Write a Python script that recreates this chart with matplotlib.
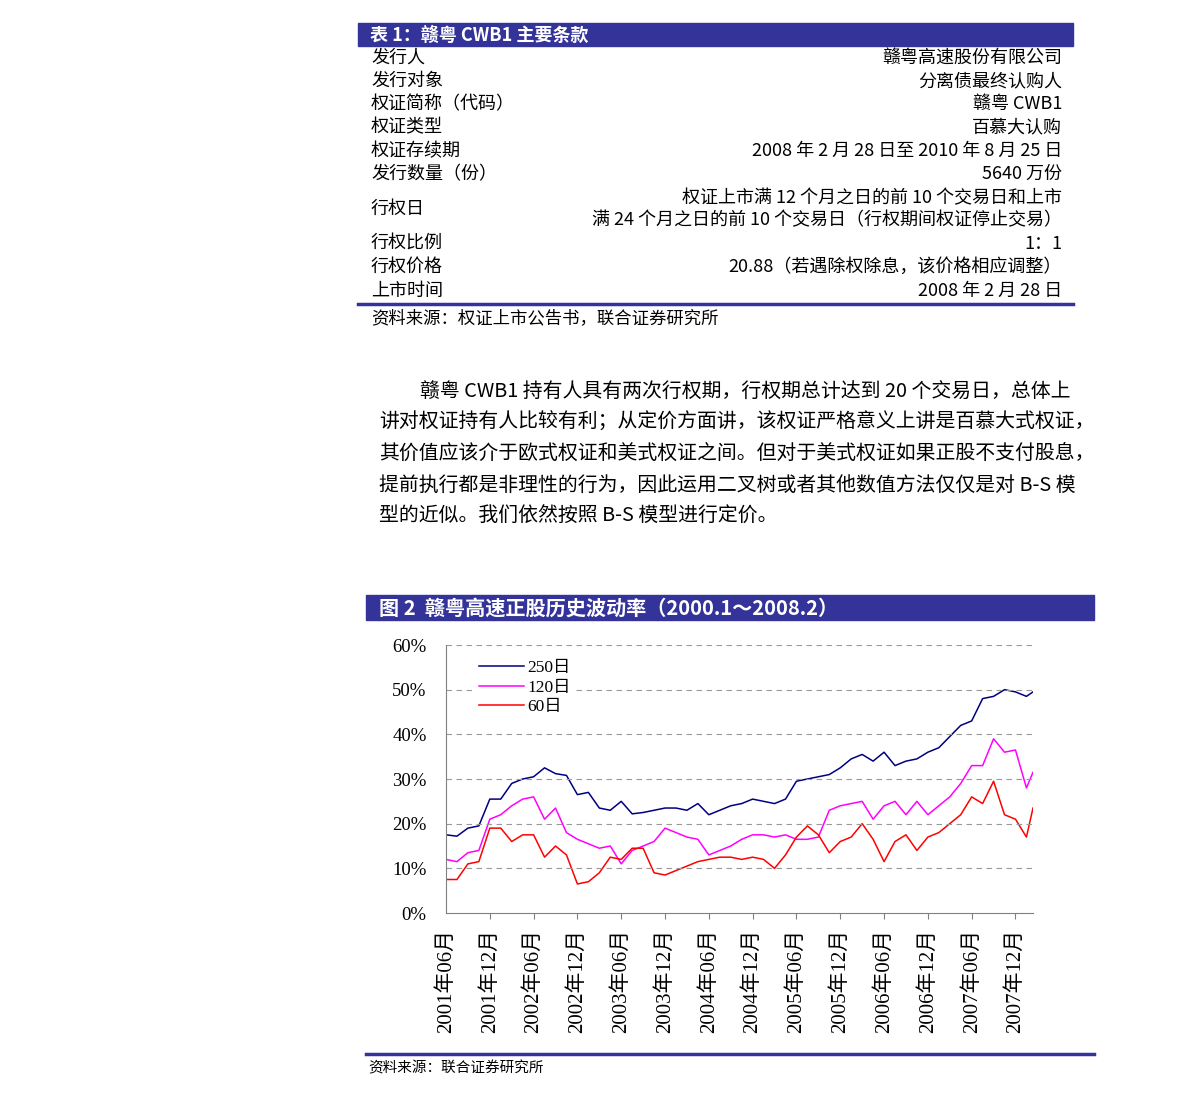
import numpy as np
import matplotlib
matplotlib.use("Agg")
import matplotlib.pyplot as plt
from matplotlib.patches import Rectangle

plt.rcParams['font.family'] = ['Noto Sans CJK SC', 'DejaVu Sans']

W, H = 1191, 1096
BLUE = '#333399'

table_labels = ["发行人", "发行对象", "权证简称（代码）", "权证类型", "权证存续期", "发行数量（份）",
                "行权日", "行权比例", "行权价格", "上市时间"]
table_values = ["赣粤高速股份有限公司", "分离债最终认购人", "赣粤 CWB1", "百慕大认购",
                "2008 年 2 月 28 日至 2010 年 8 月 25 日", "5640 万份",
                "权证上市满 12 个月之日的前 10 个交易日和上市\n满 24 个月之日的前 10 个交易日（行权期间权证停止交易）",
                "1：1", "20.88（若遇除权除息，该价格相应调整）", "2008 年 2 月 28 日"]
row_y = [58, 81, 104, 127, 151, 174, 209, 244, 267, 291]

body_lines = ["赣粤 CWB1 持有人具有两次行权期，行权期总计达到 20 个交易日，总体上",
              "讲对权证持有人比较有利；从定价方面讲，该权证严格意义上讲是百慕大式权证，",
              "其价值应该介于欧式权证和美式权证之间。但对于美式权证如果正股不支付股息，",
              "提前执行都是非理性的行为，因此运用二叉树或者其他数值方法仅仅是对 B-S 模",
              "型的近似。我们依然按照 B-S 模型进行定价。"]
body_y = [392, 422, 453, 485, 516]

tick_labels = ["2001年06月", "2001年12月", "2002年06月", "2002年12月", "2003年06月", "2003年12月",
               "2004年06月", "2004年12月", "2005年06月", "2005年12月", "2006年06月", "2006年12月",
               "2007年06月", "2007年12月"]
vol250 = [17.5, 17.2, 19, 19.5, 25.5, 25.5, 29, 30, 30.5, 32.5, 31.2, 30.8, 26.5, 27, 23.5, 23, 25,
          22.2, 22.5, 23, 23.5, 23.5, 23, 24.5, 22, 23, 24, 24.5, 25.5, 25, 24.5, 25.5, 29.5, 30, 30.5,
          31, 32.5, 34.5, 35.5, 34, 36, 33, 34, 34.5, 36, 37, 39.5, 42, 43, 48, 48.5, 50, 49.5, 48.5, 49.5]
vol120 = [12, 11.5, 13.5, 14, 21, 22, 24, 25.5, 26, 21, 23.5, 18, 16.5, 15.5, 14.5, 15, 11, 14, 15,
          16, 19, 18, 17, 16.5, 13, 14, 15, 16.5, 17.5, 17.5, 17, 17.5, 16.5, 16.5, 17, 23, 24, 24.5,
          25, 21, 24, 25, 22, 25, 22, 24, 26, 29, 33, 33, 39, 36, 36.5, 28, 31.5]
vol60 = [7.5, 7.5, 11, 11.5, 19, 19, 16, 17.5, 17.5, 12.5, 15, 13, 6.5, 7, 9, 12.5, 12, 14.5, 14.5,
         9, 8.5, 9.5, 10.5, 11.5, 12, 12.5, 12.5, 12, 12.5, 12, 10, 13, 17, 19.5, 17.5, 13.5, 16, 17,
         20, 16.5, 11.5, 16, 17.5, 14, 17, 18, 20, 22, 26, 24.5, 29.5, 22, 21, 17, 23.5]
xs = list(np.arange(54) * 0.25) + [13.4]

fig = plt.figure(figsize=(W / 100, H / 100), dpi=100)
bg = fig.add_axes([0, 0, 1, 1])
bg.set_xlim(0, W); bg.set_ylim(H, 0); bg.axis('off')

# table
bg.add_patch(Rectangle((358, 23), 715, 23, color=BLUE))
bg.text(370, 35, "表 1：赣粤 CWB1 主要条款", color='white', fontsize=13, fontweight='bold', va='center')
for lab, val, y in zip(table_labels, table_values, row_y):
    bg.text(371, y, lab, fontsize=13, va='center')
    bg.text(1062, y, val, fontsize=13, va='center', ha='right', multialignment='right', linespacing=1.3)
bg.plot([358, 1073], [304, 304], color=BLUE, lw=2.5)
bg.text(371, 318, "资料来源：权证上市公告书，联合证券研究所", fontsize=12.5, va='center')

for i, (t, y) in enumerate(zip(body_lines, body_y)):
    bg.text(420 if i == 0 else 379, y, t, fontsize=14.3, va='center')

# figure header
bg.add_patch(Rectangle((366, 595), 728, 25, color=BLUE))
bg.text(379, 608, "图 2  赣粤高速正股历史波动率（2000.1～2008.2）", color='white', fontsize=14.5,
        fontweight='bold', va='center')
bg.plot([366, 1094], [1054, 1054], color=BLUE, lw=2.5)
bg.text(368, 1068, "资料来源：联合证券研究所", fontsize=10.5, va='center')

# chart
ax = fig.add_axes([446 / W, 1 - 913 / H, 587 / W, 268 / H])
ax.plot(xs, vol250, color='#000080', lw=1.1, label='250日')
ax.plot(xs, vol120, color='#FF00FF', lw=1.1, label='120日')
ax.plot(xs, vol60, color='#FF0000', lw=1.1, label='60日')
ax.set_xlim(0, 13.4)
ax.set_ylim(0, 60)
ax.set_yticks(range(0, 61, 10))
ax.set_yticklabels([f"{v}%" for v in range(0, 61, 10)], family=['Liberation Serif', 'Noto Sans CJK SC'], fontsize=13.5)
ax.set_xticks(range(1, 14))
ax.set_xticklabels([])
for k, lab in enumerate(tick_labels):
    ax.text(k, -3.5, lab, rotation=90, ha='center', va='top', fontsize=15,
            family=['Liberation Serif', 'Noto Sans CJK SC'], transform=ax.transData, clip_on=False)
ax.tick_params(axis='y', length=0, pad=14)
ax.tick_params(axis='x', length=4, direction='out', color='#808080')
for y in range(10, 61, 10):
    ax.axhline(y, color='#999999', lw=0.8, ls=(0, (5, 4)))
for s in ['top', 'right']:
    ax.spines[s].set_visible(False)
for s in ['left', 'bottom']:
    ax.spines[s].set_color('#808080')
ax.legend(loc='upper left', bbox_to_anchor=(0.035, 0.99), frameon=True, edgecolor='none',
          facecolor='white', framealpha=1, handlelength=2.6, handletextpad=0.2,
          labelspacing=0.2, borderpad=0.2,
          prop={'family': ['Liberation Serif', 'Noto Sans CJK SC'], 'size': 12.5})

fig.savefig('out.png', dpi=100)
